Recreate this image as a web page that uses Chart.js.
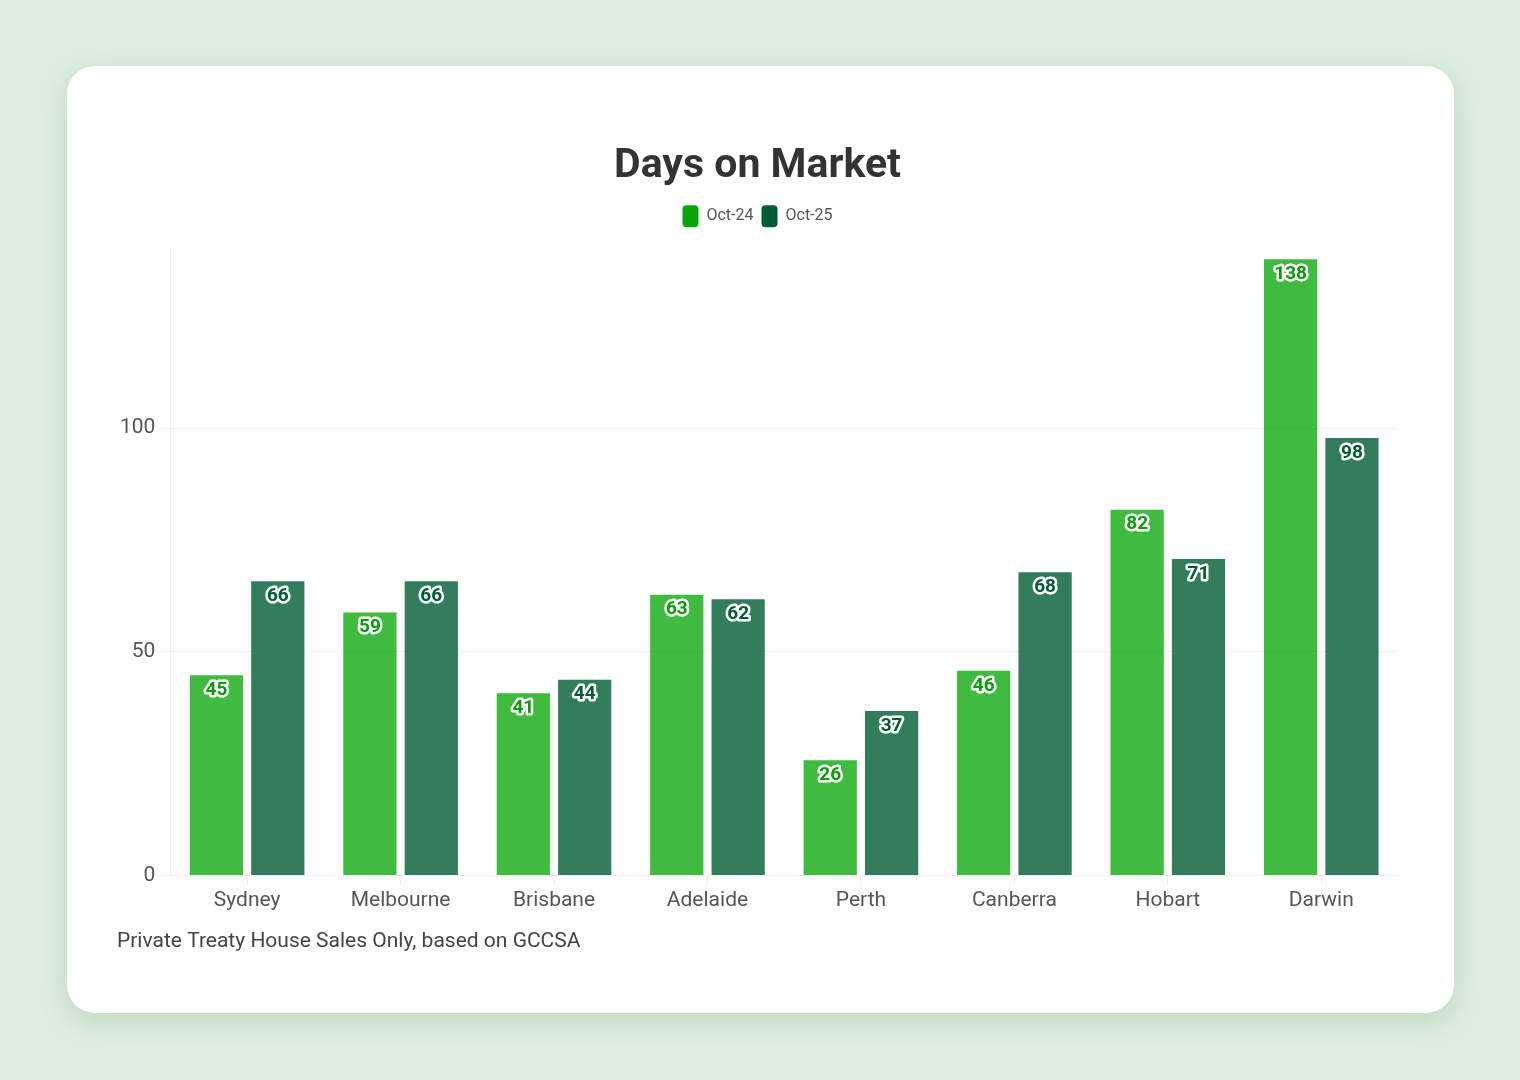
<!DOCTYPE html>
<html lang="en">
<head>
    <meta charset="UTF-8">
    <title>Days on Market</title>
    <script src="https://cdn.jsdelivr.net/npm/chart.js"></script>
    <style>
        html, body {
            margin: 0;
            padding: 0;
            background: #deeede;
            font-family: Roboto, sans-serif;
        }
        .card {
            position: absolute;
            left: 67px;
            top: 66px;
            width: 1387px;
            height: 947px;
            background: #fff;
            border-radius: 28px;
            box-shadow: 0 8px 30px rgba(60, 110, 60, 0.18);
            box-sizing: border-box;
            padding: 50px;
        }
        .wrap {
            position: relative;
            width: 100%;
            height: 100%;
        }
    </style>
</head>
<body>
    <div class="card">
        <div class="wrap"><canvas id="domChart"></canvas></div>
    </div>

    <script>
        const cities = ['Sydney', 'Melbourne', 'Brisbane', 'Adelaide', 'Perth', 'Canberra', 'Hobart', 'Darwin'];
        const oct24 = [45, 59, 41, 63, 26, 46, 82, 138];
        const oct25 = [66, 66, 44, 62, 37, 68, 71, 98];
        const seriesNames = ['Oct-24', 'Oct-25'];
        const yTicks = [0, 50, 100];

        // value labels with white outline, drawn just inside the top of each bar
        const barLabels = {
            id: 'barLabels',
            afterDatasetsDraw(chart) {
                const ctx = chart.ctx;
                ctx.save();
                ctx.font = 'bold 19px Roboto';
                ctx.textAlign = 'center';
                ctx.textBaseline = 'middle';
                ctx.lineJoin = 'round';
                chart.data.datasets.forEach((ds, i) => {
                    const meta = chart.getDatasetMeta(i);
                    meta.data.forEach((bar, j) => {
                        const txt = String(ds.data[j]);
                        const y = bar.y + 16;
                        ctx.lineWidth = 5;
                        ctx.strokeStyle = '#fff';
                        ctx.strokeText(txt, bar.x, y);
                        ctx.fillStyle = ds.labelColor;
                        ctx.fillText(txt, bar.x, y);
                    });
                });
                ctx.restore();
            }
        };

        // a bit more room under the legend
        const legendGap = {
            id: 'legendGap',
            beforeInit(chart) {
                const fit = chart.legend.fit;
                chart.legend.fit = function () {
                    fit.call(this);
                    this.height += 12;
                };
            }
        };

        const ctx = document.getElementById('domChart').getContext('2d');
        new Chart(ctx, {
            type: 'bar',
            data: {
                labels: cities,
                datasets: [{
                    label: seriesNames[0],
                    data: oct24,
                    backgroundColor: 'rgba(10, 166, 10, 0.78)',
                    borderColor: 'rgba(255, 255, 255, 0.6)',
                    borderWidth: 1,
                    labelColor: '#0a9a0a'
                }, {
                    label: seriesNames[1],
                    data: oct25,
                    backgroundColor: 'rgba(0, 92, 52, 0.8)',
                    borderColor: 'rgba(255, 255, 255, 0.6)',
                    borderWidth: 1,
                    labelColor: '#005a32'
                }]
            },
            options: {
                responsive: true,
                maintainAspectRatio: false,
                animation: false,
                layout: { padding: { top: 10, right: 6 } },
                plugins: {
                    title: {
                        display: true,
                        text: 'Days on Market',
                        color: '#333',
                        font: { family: 'Roboto', size: 41, weight: 'bold' },
                        padding: { top: 16, bottom: 6 }
                    },
                    subtitle: {
                        display: true,
                        position: 'bottom',
                        align: 'start',
                        text: 'Private Treaty House Sales Only, based on GCCSA',
                        color: '#444',
                        font: { family: 'Roboto', size: 21 },
                        padding: { top: 12, bottom: 9 }
                    },
                    legend: {
                        labels: {
                            boxWidth: 16,
                            boxHeight: 22,
                            useBorderRadius: true,
                            borderRadius: 4,
                            color: '#555',
                            font: { family: 'Roboto', size: 16 },
                            padding: 8,
                            generateLabels(chart) {
                                const fills = ['#0aa50a', '#005a32'];
                                return chart.data.datasets.map((ds, i) => ({
                                    text: ds.label,
                                    fillStyle: fills[i],
                                    strokeStyle: fills[i],
                                    lineWidth: 0,
                                    borderRadius: 4,
                                    fontColor: '#555',
                                    datasetIndex: i
                                }));
                            }
                        }
                    },
                    tooltip: { enabled: false }
                },
                scales: {
                    x: {
                        grid: { drawOnChartArea: false, offset: false, color: '#eee', tickLength: 10 },
                        border: { color: '#eee' },
                        ticks: { color: '#555', font: { family: 'Roboto', size: 21 } }
                    },
                    y: {
                        min: 0,
                        max: 140,
                        afterBuildTicks(axis) {
                            axis.ticks = yTicks.map(v => ({ value: v }));
                        },
                        ticks: { color: '#555', font: { family: 'Roboto', size: 21 } },
                        grid: { color: '#eee', tickLength: 12 },
                        border: { color: '#eee' }
                    }
                }
            },
            plugins: [barLabels, legendGap]
        });
    </script>
</body>
</html>
